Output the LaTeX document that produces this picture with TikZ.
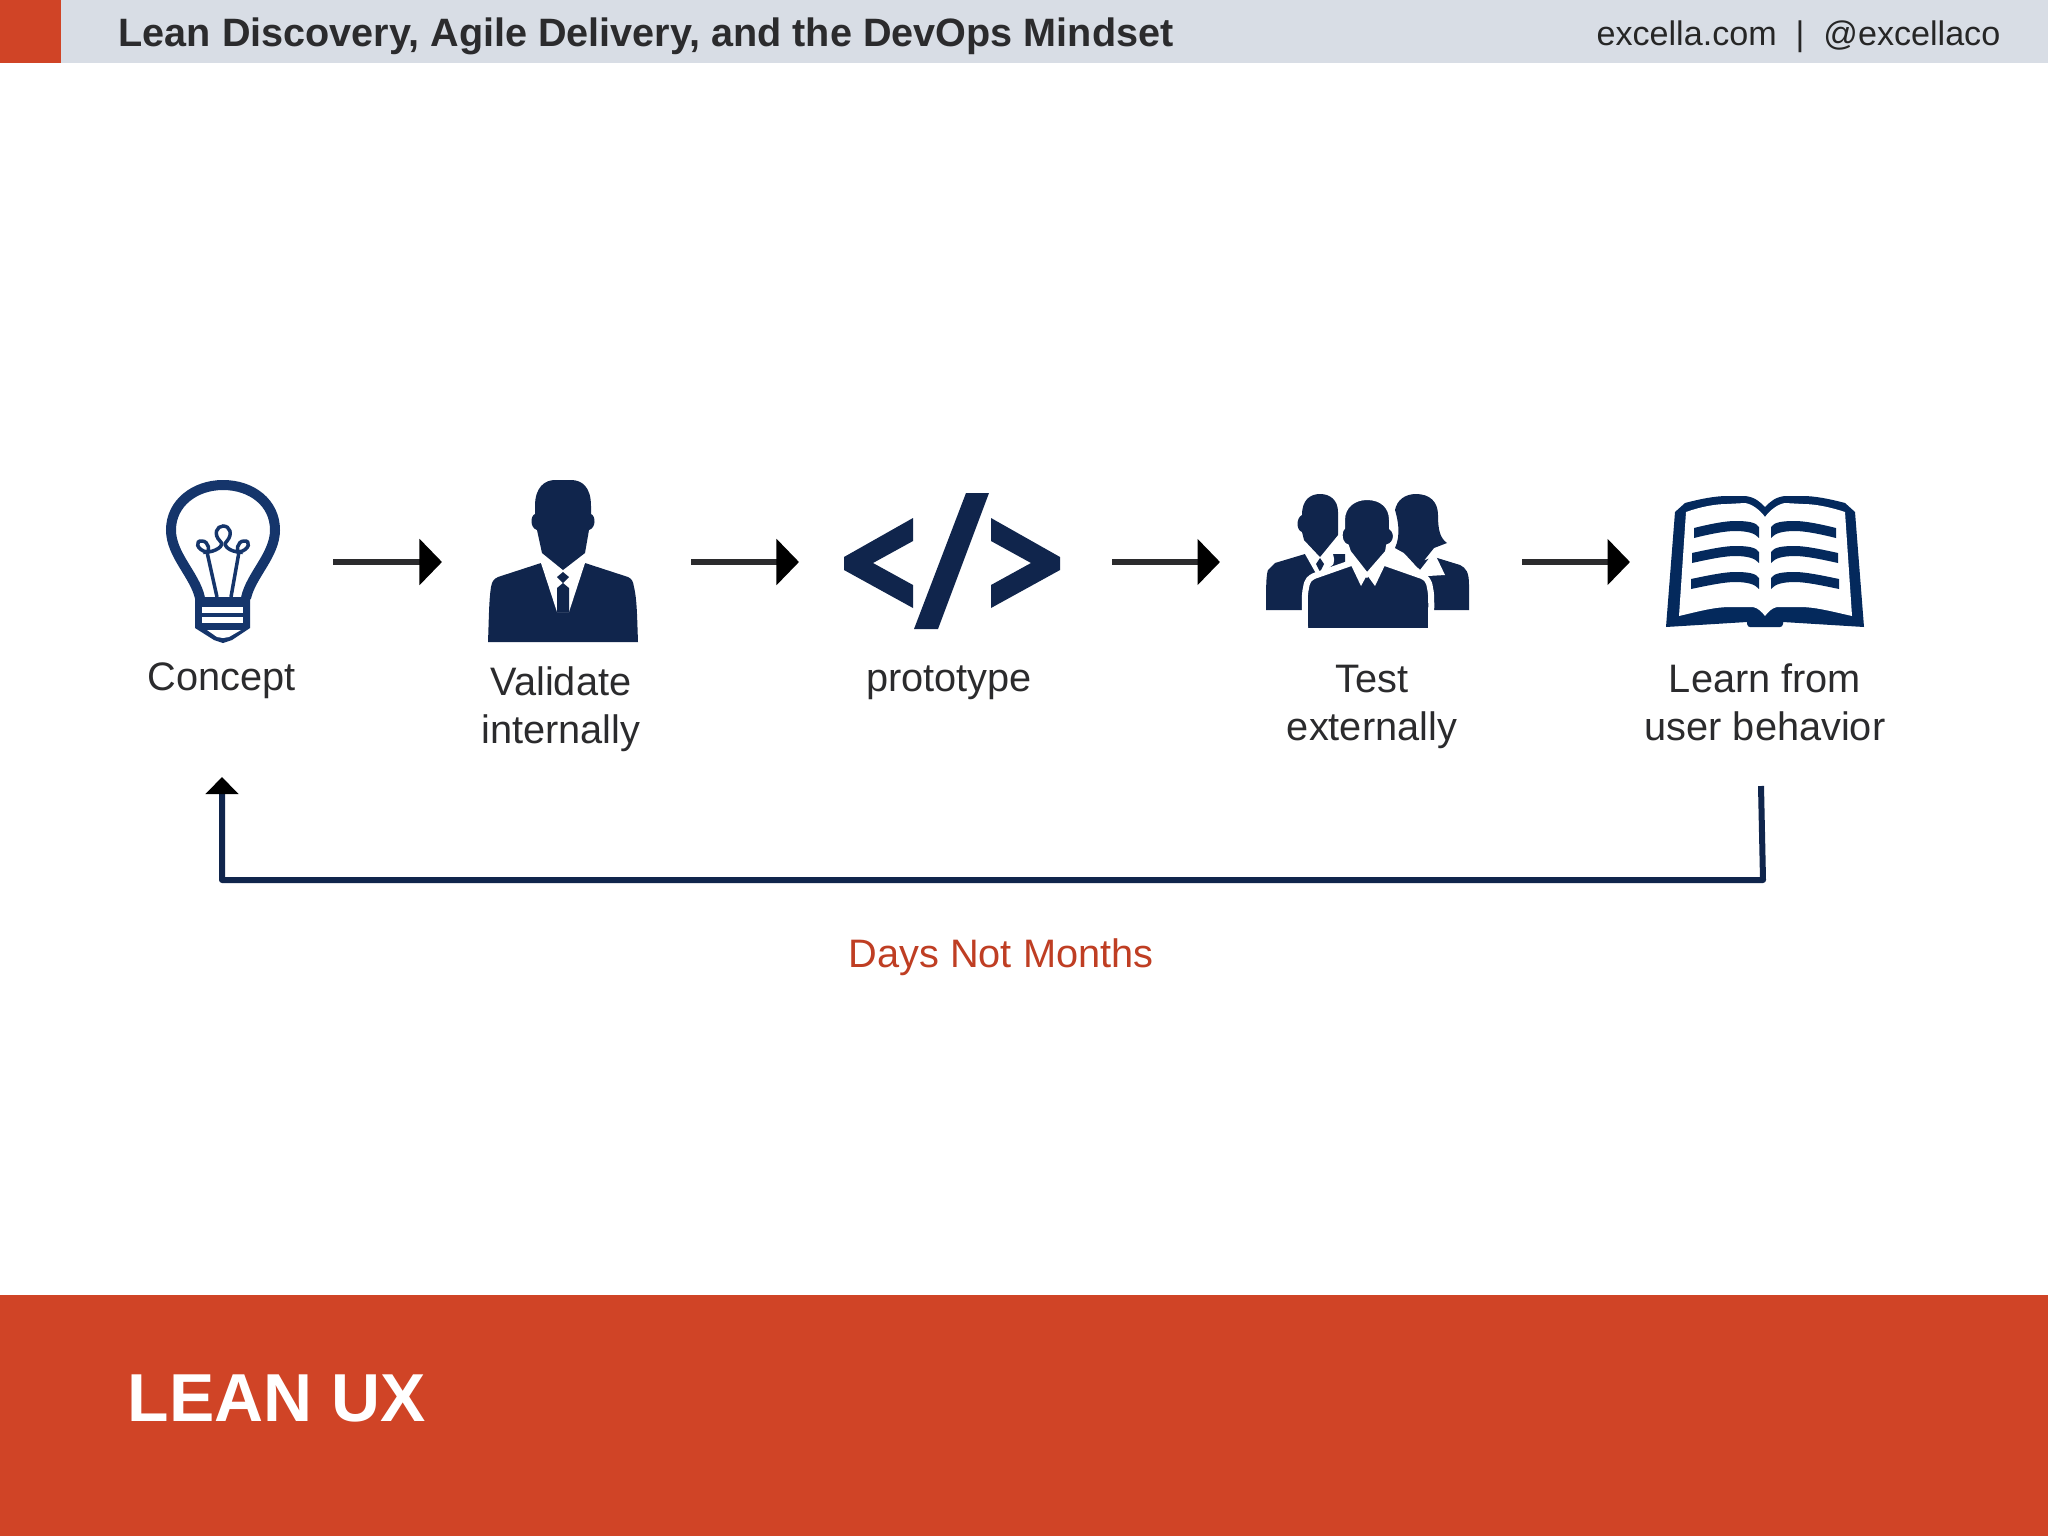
\documentclass[tikz,border=0pt]{standalone}
\usepackage{fontspec}
\setmainfont{Liberation Sans}
\usetikzlibrary{arrows.meta}
\definecolor{navy}{HTML}{10254C}
\definecolor{bulbblue}{HTML}{15356B}
\definecolor{bookblue}{HTML}{04295C}
\definecolor{brick}{HTML}{D04426}
\definecolor{headgray}{HTML}{D8DDE5}
\definecolor{inkgray}{HTML}{2B2B2D}
\begin{document}
\begin{tikzpicture}[x=0.01cm,y=-0.01cm]
	\tikzstyle{caption}=[text=inkgray,align=center,font=\fontsize{11.3}{13.7}\selectfont]
	\tikzstyle{step arrow}=[line width=0.065cm,draw=inkgray,-{Triangle[length=0.225cm,width=0.45cm,color=black]}]
	\tikzstyle{loop arrow}=[line width=0.06cm,draw=navy,line join=round,-{Triangle[length=0.17cm,width=0.32cm,color=black]}]
	\tikzstyle{icon}=[fill=navy,draw=none]
	\useasboundingbox (0,0) rectangle (2048,1536);
	\fill[white] (0,0) rectangle (2048,1536);
	\fill[headgray] (61,0) rectangle (2048,63);
	\fill[brick] (0,0) rectangle (61,63);
	\fill[brick] (0,1295) rectangle (2048,1536);
	\node[anchor=base west,inner sep=0pt,text=inkgray,font=\fontsize{11.26}{13}\selectfont\bfseries](title) at (118,46) {Lean Discovery, Agile Delivery, and the DevOps Mindset};
	\node[anchor=base east,inner sep=0pt,text=black!85,font=\fontsize{9.7}{12}\selectfont](site) at (2001,45) {excella.com \;|\; @excellaco};
	\node[anchor=base west,inner sep=0pt,text=white,font=\fontsize{19.3}{23}\selectfont\bfseries](section) at (127,1421) {LEAN UX};

	\draw[bulbblue,line width=0.1cm] (200,598) .. controls (195,575) and (171,555) .. (171,530) .. controls (171,503) and (195,485) .. (223,485) .. controls (252,485) and (275,503) .. (275,530) .. controls (275,555) and (251,575) .. (246,598);
	\fill[bulbblue] (195,597) -- (250,597) -- (250,628) -- (232,640) -- (223,643) -- (214,640) -- (195,628) -- cycle;
	\fill[white] (202,607) rectangle (243,613);
	\fill[white] (202,617) rectangle (243,623);
	\fill[white] (207,630) -- (241,630) -- (229,637) -- (223,638) -- (217,637) -- cycle;
	\draw[bulbblue,line width=0.035cm] (217,597) -- (207,552) .. controls (196,550) and (195,540) .. (202,541) .. controls (209,541) and (210,552) .. (207,552) .. controls (214,552) and (226,546) .. (220,541) .. controls (213,534) and (217,526) .. (223,526) .. controls (230,526) and (233,534) .. (227,541) .. controls (221,546) and (232,552) .. (239,552) .. controls (236,552) and (237,541) .. (244,541) .. controls (251,540) and (250,550) .. (239,552) -- (231,597);

	\fill[icon] (488,642) .. controls (489,615) and (489,600) .. (491,587) .. controls (492,581) and (494,579) .. (498,577) -- (541,563) -- (585,563) -- (628,577) .. controls (632,579) and (633,581) .. (634,587) .. controls (637,600) and (637,615) .. (638,642) -- cycle;
	\fill[white] (541,563) -- (557,612) -- (569,612) -- (585,563) -- cycle;
	\fill[icon] (535,506) .. controls (535,487) and (545,480) .. (555,480) -- (571,480) .. controls (582,480) and (591,487) .. (591,506) -- (591,514) .. controls (596,516) and (596,528) .. (589,530) -- (585,553) -- (563,570) -- (542,553) -- (537,530) .. controls (530,528) and (530,516) .. (535,514) -- cycle;
	\fill[icon] (563,572) -- (569,577) -- (563,583) -- (569,588) -- (569,612) -- (557,612) -- (557,588) -- (563,583) -- (557,577) -- cycle;

	\fill[icon] (913,518) -- (844,557) -- (844,570) -- (913,608) -- (913,585) -- (873,563) -- (913,541) -- cycle;
	\fill[icon] (966,493) -- (989,493) -- (938,629) -- (914,629) -- cycle;
	\fill[icon] (991,518) -- (1060,557) -- (1060,570) -- (991,608) -- (991,585) -- (1031,563) -- (991,541) -- cycle;

	\fill[icon] (1266,610) .. controls (1266,590) and (1266,575) .. (1268,570) -- (1275,563) -- (1305,554) -- (1345,554) -- (1345,610) -- cycle;
	\fill[white] (1305,554) -- (1318,577) -- (1335,563) -- (1333,554) -- cycle;
	\fill[icon] (1335,557) -- (1345,560) -- (1333,566) -- cycle;
	\fill[icon] (1320,558) -- (1324,564) -- (1320,572) -- (1316,564) -- cycle;
	\fill[icon] (1302,515) .. controls (1302,500) and (1310,494) .. (1320,494) .. controls (1330,494) and (1338,500) .. (1338,512) -- (1338,535) -- (1320,557) -- (1304,540) -- (1302,532) .. controls (1296,530) and (1296,518) .. (1302,515) -- cycle;
	\fill[icon] (1395,610) -- (1395,570) -- (1434,557) -- (1460,565) .. controls (1466,568) and (1469,572) .. (1469,585) -- (1469,610) -- cycle;
	\fill[white] (1391,562) -- (1403,553) -- (1420,570) -- (1434,552) -- (1445,575) -- (1428,576) -- (1428,610) -- (1391,610) -- cycle;
	\fill[icon] (1395,510) .. controls (1397,500) and (1405,494) .. (1416,494) .. controls (1430,494) and (1438,502) .. (1438,515) .. controls (1438,530) and (1440,538) .. (1447,543) -- (1434,548) -- (1418,568) -- (1404,553) -- (1395,548) .. controls (1401,535) and (1398,520) .. (1395,510) -- cycle;
	\filldraw[fill=navy,draw=white,line width=0.06cm] (1305,631) .. controls (1305,610) and (1304,595) .. (1306,588) .. controls (1307,580) and (1310,578) .. (1314,576) -- (1351,563) -- (1385,563) -- (1422,576) .. controls (1426,578) and (1429,580) .. (1430,588) .. controls (1432,595) and (1431,610) .. (1431,631) -- cycle;
	\fill[white] (1351,565) -- (1361,586) -- (1367,575) -- (1375,586) -- (1385,565) -- cycle;
	\filldraw[fill=navy,draw=white,line width=0.04cm] (1343,520) .. controls (1343,506) and (1354,498) .. (1367,498) .. controls (1381,498) and (1391,506) .. (1391,520) -- (1391,528) .. controls (1397,532) and (1396,544) .. (1388,546) -- (1387,552) -- (1367,575) -- (1349,552) -- (1347,546) .. controls (1340,544) and (1339,532) .. (1343,528) -- cycle;

	\fill[bookblue] (1666,627) -- (1675,512) -- (1685,503) .. controls (1700,499) and (1715,496) .. (1727,496) -- (1745,496) .. controls (1755,497) and (1760,502) .. (1765,507) .. controls (1770,502) and (1775,497) .. (1785,496) -- (1803,496) .. controls (1815,496) and (1830,499) .. (1845,503) -- (1855,512) -- (1864,627) -- (1783,622) -- (1783,624) .. controls (1783,626) and (1781,627) .. (1780,627) -- (1750,627) .. controls (1749,627) and (1747,626) .. (1747,624) -- (1747,622) -- cycle;
	\fill[white] (1679,616) -- (1686,512) .. controls (1700,507) and (1715,504) .. (1727,504) -- (1745,503) .. controls (1752,504) and (1760,510) .. (1765,517) .. controls (1770,510) and (1778,504) .. (1785,503) -- (1803,504) .. controls (1815,504) and (1830,507) .. (1845,512) -- (1852,616) .. controls (1830,611) and (1815,607) .. (1800,607) -- (1777,607) .. controls (1772,608) and (1768,612) .. (1765,616) .. controls (1762,612) and (1758,608) .. (1753,607) -- (1730,607) .. controls (1715,607) and (1700,611) .. (1679,616) -- cycle;
	\foreach \sgn in {1,-1}{
		\foreach \dy/\dx in {0/0,25/2,51/3}{
			\fill[bookblue,shift={(1765,\dy)},xscale=\sgn] (-71-\dx,528) .. controls (-55,524) and (-40,521) .. (-30,521) .. controls (-18,521) and (-9,522) .. (-6,527) -- (-6,538) .. controls (-10,533) and (-18,531) .. (-30,531) .. controls (-40,531) and (-55,534) .. (-71-\dx,538) -- cycle;
		}
	}

	\node[caption](concept) at (222,681) {Concept};
	\node[caption](validate) at (561,709) {Validate\\internally};
	\node[caption](prototype) at (949,683) {prototype};
	\node[caption](testext) at (1372,707) {Test\\externally};
	\node[caption](learn) at (1765,702) {Learn from\\user behavior};
	\node[text=brick!92!black,font=\fontsize{11.3}{13.5}\selectfont](months) at (1001,957) {Days Not Months};

	\coordinate (a1) at (333,562);
	\coordinate (a2) at (442,562);
	\coordinate (b1) at (691,562);
	\coordinate (b2) at (799,562);
	\coordinate (c1) at (1112,562);
	\coordinate (c2) at (1220,562);
	\coordinate (d1) at (1522,562);
	\coordinate (d2) at (1630,562);
	\coordinate (fbstart) at (1761,786);
	\coordinate (fbright) at (1763,880);
	\coordinate (fbleft) at (222,880);
	\coordinate (fbend) at (222,777);
	\draw[step arrow] (a1) -- (a2);
	\draw[step arrow] (b1) -- (b2);
	\draw[step arrow] (c1) -- (c2);
	\draw[step arrow] (d1) -- (d2);
	\draw[loop arrow] (fbstart) -- (fbright) -- (fbleft) -- (fbend);
\end{tikzpicture}
\end{document}
